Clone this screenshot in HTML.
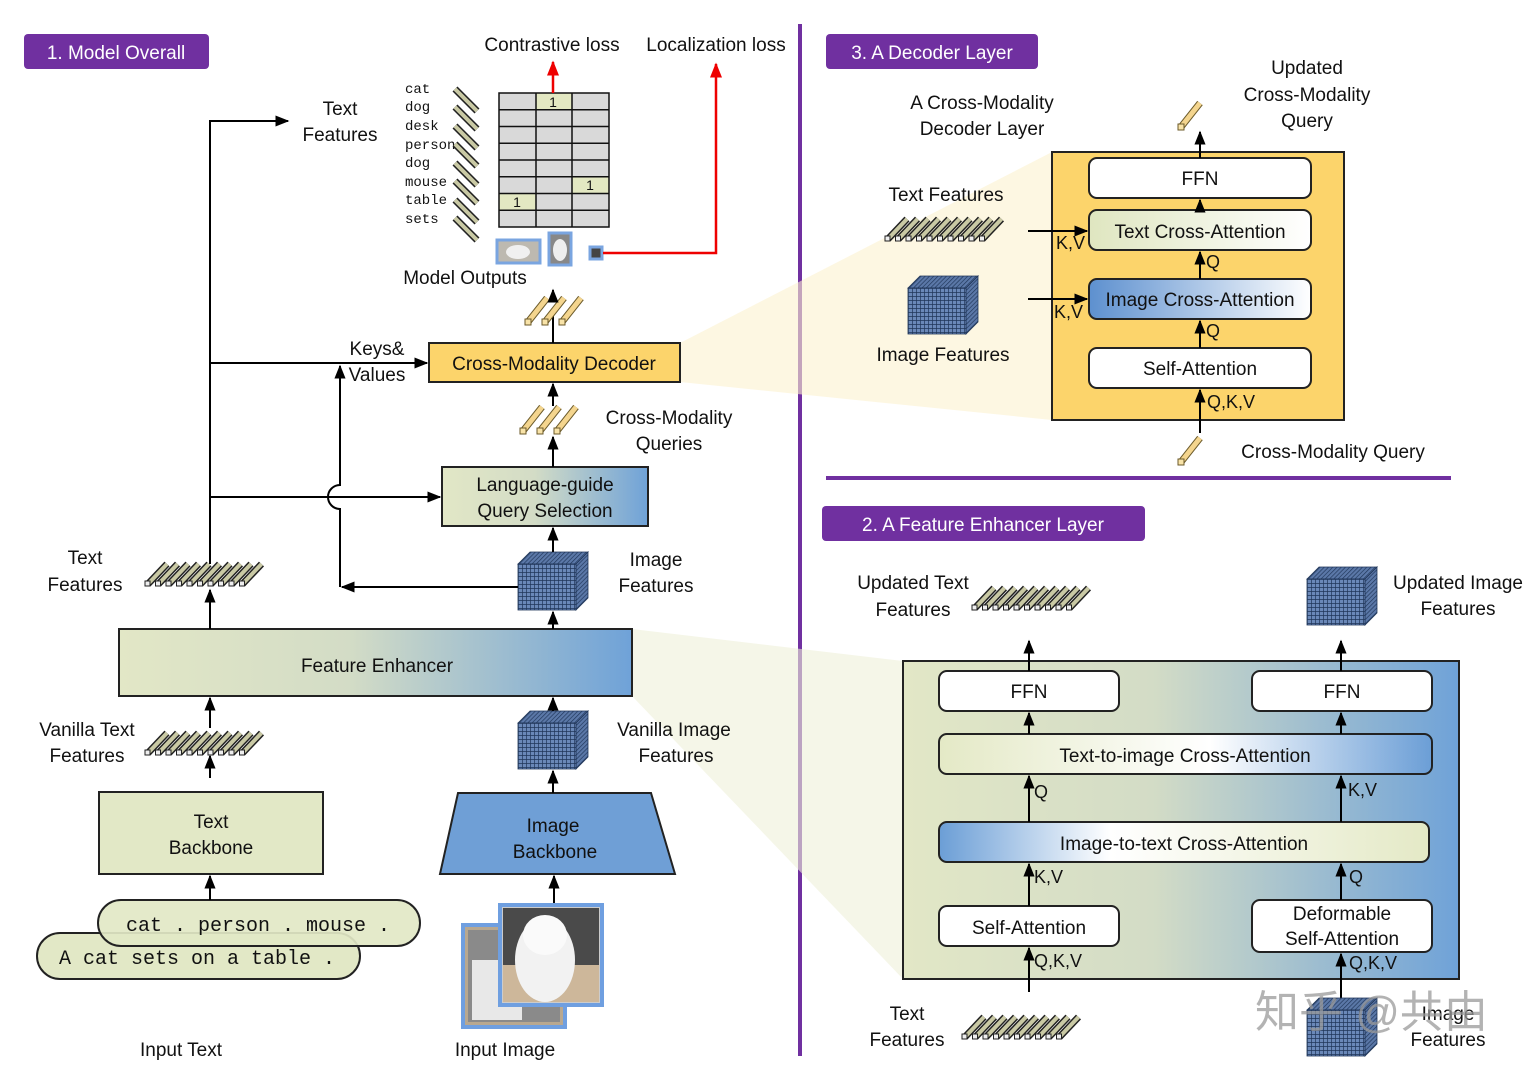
<!DOCTYPE html>
<html><head><meta charset="utf-8"><style>
html,body{margin:0;padding:0;background:#fff;}
svg{display:block;}
text{font-family:"Liberation Sans","Noto Sans CJK SC",sans-serif;fill:#111;}
.m{font-family:"Liberation Mono","DejaVu Sans Mono",monospace;}
</style></head><body>
<svg width="1536" height="1072" viewBox="0 0 1536 1072" xmlns="http://www.w3.org/2000/svg">
<defs>
<marker id="ar" viewBox="0 0 10 10" refX="9" refY="5" markerWidth="7" markerHeight="7" orient="auto"><path d="M0,1 L10,5 L0,9 z" fill="#000"/></marker>
<marker id="arr" viewBox="0 0 10 10" refX="9" refY="5" markerWidth="6" markerHeight="6" orient="auto"><path d="M0,1 L10,5 L0,9 z" fill="#e00"/></marker>
<pattern id="grid" width="4" height="4" patternUnits="userSpaceOnUse"><rect width="4" height="4" fill="#6a88b8"/><path d="M0,0H4M0,0V4" stroke="#1f3558" stroke-width="1.4"/></pattern>
<pattern id="hatch" width="3" height="3" patternUnits="userSpaceOnUse" patternTransform="rotate(45)"><rect width="3" height="3" fill="#5b78a8"/><path d="M0,0V3" stroke="#1f3558" stroke-width="1.3"/></pattern>
<linearGradient id="gb" x1="0" x2="1"><stop offset="0" stop-color="#e2e7c6"/><stop offset="0.45" stop-color="#d3dcc6"/><stop offset="1" stop-color="#6fa2d8"/></linearGradient>
<linearGradient id="gw" x1="0" x2="1"><stop offset="0" stop-color="#dfe6c0"/><stop offset="1" stop-color="#ffffff"/></linearGradient>
<linearGradient id="bw" x1="0" x2="1"><stop offset="0" stop-color="#5d90cf"/><stop offset="1" stop-color="#ffffff"/></linearGradient>
<linearGradient id="gwb" x1="0" x2="1"><stop offset="0" stop-color="#e4e9c6"/><stop offset="0.55" stop-color="#ffffff"/><stop offset="1" stop-color="#6b9ed6"/></linearGradient>
<linearGradient id="bwg" x1="0" x2="1"><stop offset="0" stop-color="#6b9ed6"/><stop offset="0.35" stop-color="#ffffff"/><stop offset="1" stop-color="#e4e9c6"/></linearGradient>
<g id="tk"><line x1="0" y1="0" x2="19" y2="-20" stroke="#222" stroke-width="7"/><line x1="0" y1="0" x2="19" y2="-20" stroke="#c9c9a4" stroke-width="4"/><rect x="-3" y="-3" width="5" height="5" fill="#eee" stroke="#222" stroke-width="1"/></g>
<g id="ty"><line x1="0" y1="0" x2="19" y2="-24" stroke="#6b5a2a" stroke-width="7"/><line x1="0" y1="0" x2="19" y2="-24" stroke="#f4d58e" stroke-width="5"/><rect x="-3" y="-3" width="6" height="6" fill="#f8e3a8" stroke="#6b5a2a" stroke-width="1"/></g>
<g id="tg"><line x1="0" y1="0" x2="22" y2="22" stroke="#222" stroke-width="7"/><line x1="0" y1="0" x2="22" y2="22" stroke="#c9c9a4" stroke-width="4"/></g>
<g id="row"><use href="#tk" x="0"/><use href="#tk" x="10.5"/><use href="#tk" x="21"/><use href="#tk" x="31.5"/><use href="#tk" x="42"/><use href="#tk" x="52.5"/><use href="#tk" x="63"/><use href="#tk" x="73.5"/><use href="#tk" x="84"/><use href="#tk" x="94.5"/></g>
<g id="cube"><polygon points="0,12 12,0 70,0 58,12" fill="url(#hatch)" stroke="#1f3558" stroke-width="0.8"/><polygon points="58,12 70,0 70,46 58,58" fill="url(#hatch)" stroke="#1f3558" stroke-width="0.8"/><rect x="0" y="12" width="58" height="46" fill="url(#grid)" stroke="#1f3558" stroke-width="0.8"/></g>
</defs>

<rect x="798" y="24" width="4" height="1032" fill="#7030a0"/>
<rect x="826" y="476" width="625" height="4" fill="#7030a0"/>

<rect x="24" y="34" width="185" height="35" rx="4" fill="#7030a0"/>
<text x="116" y="59" text-anchor="middle" font-size="19" style="fill:#fff">1. Model Overall</text>
<rect x="826" y="34" width="212" height="35" rx="4" fill="#7030a0"/>
<text x="932" y="59" text-anchor="middle" font-size="19" style="fill:#fff">3. A Decoder Layer</text>
<rect x="822" y="506" width="323" height="35" rx="4" fill="#7030a0"/>
<text x="983" y="531" text-anchor="middle" font-size="19" style="fill:#fff">2. A Feature Enhancer Layer</text>

<polygon points="680,343 1052,152 1052,420 680,382" fill="#fbf1cf" opacity="0.6"/>
<polygon points="632,629 903,661 903,979 632,696" fill="#eef0d8" opacity="0.6"/>

<rect x="37" y="933" width="323" height="46" rx="23" fill="#e2e8c6" stroke="#222" stroke-width="2"/>
<text class="m" x="59" y="964" font-size="20">A cat sets on a table .</text>
<rect x="98" y="900" width="322" height="46" rx="23" fill="#e2e8c6" fill-opacity="0.92" stroke="#222" stroke-width="2"/>
<text class="m" x="126" y="931" font-size="20">cat . person . mouse .</text>
<text x="181" y="1056" text-anchor="middle" font-size="19">Input Text</text>

<rect x="463" y="925" width="102" height="102" fill="#b8a890" stroke="#6f9fe0" stroke-width="4"/>
<rect x="468" y="930" width="92" height="92" fill="#8a8a8a"/>
<rect x="472" y="960" width="50" height="60" fill="#e8e8e8"/>
<rect x="500" y="905" width="102" height="100" fill="#ccc" stroke="#6f9fe0" stroke-width="4"/>
<rect x="503" y="908" width="96" height="94" fill="#4a4a4a"/>
<rect x="503" y="965" width="96" height="37" fill="#cdb79a"/>
<ellipse cx="545" cy="960" rx="30" ry="42" fill="#f2f2f2"/>
<ellipse cx="545" cy="935" rx="22" ry="20" fill="#fafafa"/>
<text x="505" y="1056" text-anchor="middle" font-size="19">Input Image</text>

<rect x="99" y="792" width="224" height="82" fill="#e2e8c6" stroke="#222" stroke-width="2"/>
<text x="211" y="828" text-anchor="middle" font-size="19">Text</text>
<text x="211" y="854" text-anchor="middle" font-size="19">Backbone</text>
<polygon points="458,793 651,793 675,874 440,874" fill="#6f9fd6" stroke="#222" stroke-width="2"/>
<text x="553" y="832" text-anchor="middle" font-size="19">Image</text>
<text x="555" y="858" text-anchor="middle" font-size="19">Backbone</text>

<line x1="210" y1="900" x2="210" y2="876" stroke="#000" stroke-width="2" marker-end="url(#ar)"/>
<line x1="554" y1="903" x2="554" y2="876" stroke="#000" stroke-width="2" marker-end="url(#ar)"/>
<line x1="210" y1="778" x2="210" y2="756" stroke="#000" stroke-width="2" marker-end="url(#ar)"/>
<line x1="553" y1="793" x2="553" y2="771" stroke="#000" stroke-width="2" marker-end="url(#ar)"/>
<use href="#row" x="148" y="753"/>
<text x="87" y="736" text-anchor="middle" font-size="19">Vanilla Text</text>
<text x="87" y="762" text-anchor="middle" font-size="19">Features</text>
<use href="#cube" x="518" y="711"/>
<text x="674" y="736" text-anchor="middle" font-size="19">Vanilla Image</text>
<text x="676" y="762" text-anchor="middle" font-size="19">Features</text>
<line x1="210" y1="728" x2="210" y2="698" stroke="#000" stroke-width="2" marker-end="url(#ar)"/>
<line x1="553" y1="711" x2="553" y2="698" stroke="#000" stroke-width="2" marker-end="url(#ar)"/>

<rect x="119" y="629" width="513" height="67" fill="url(#gb)" stroke="#222" stroke-width="2"/>
<text x="377" y="672" text-anchor="middle" font-size="19">Feature Enhancer</text>
<line x1="210" y1="629" x2="210" y2="590" stroke="#000" stroke-width="2" marker-end="url(#ar)"/>
<line x1="553" y1="629" x2="553" y2="612" stroke="#000" stroke-width="2" marker-end="url(#ar)"/>
<use href="#row" x="148" y="584"/>
<text x="85" y="564" text-anchor="middle" font-size="19">Text</text>
<text x="85" y="591" text-anchor="middle" font-size="19">Features</text>
<use href="#cube" x="518" y="552"/>
<text x="656" y="566" text-anchor="middle" font-size="19">Image</text>
<text x="656" y="592" text-anchor="middle" font-size="19">Features</text>

<line x1="210" y1="564" x2="210" y2="121" stroke="#000" stroke-width="2"/>
<line x1="209" y1="121" x2="288" y2="121" stroke="#000" stroke-width="2" marker-end="url(#ar)"/>
<text x="340" y="115" text-anchor="middle" font-size="19">Text</text>
<text x="340" y="141" text-anchor="middle" font-size="19">Features</text>
<line x1="210" y1="497" x2="440" y2="497" stroke="#000" stroke-width="2" marker-end="url(#ar)"/>
<line x1="210" y1="363" x2="427" y2="363" stroke="#000" stroke-width="2" marker-end="url(#ar)"/>
<line x1="518" y1="587" x2="342" y2="587" stroke="#000" stroke-width="2" marker-end="url(#ar)"/>
<path d="M340,587 V509 A12,12 0 0 1 340,485 V366" fill="none" stroke="#000" stroke-width="2" marker-end="url(#ar)"/>
<text x="377" y="355" text-anchor="middle" font-size="19">Keys&amp;</text>
<text x="377" y="381" text-anchor="middle" font-size="19">Values</text>

<rect x="442" y="467" width="206" height="59" fill="url(#gb)" stroke="#222" stroke-width="2"/>
<text x="545" y="491" text-anchor="middle" font-size="19">Language-guide</text>
<text x="545" y="517" text-anchor="middle" font-size="19">Query Selection</text>
<line x1="553" y1="552" x2="553" y2="528" stroke="#000" stroke-width="2" marker-end="url(#ar)"/>
<line x1="553" y1="467" x2="553" y2="437" stroke="#000" stroke-width="2" marker-end="url(#ar)"/>
<use href="#ty" x="523" y="431"/><use href="#ty" x="540" y="431"/><use href="#ty" x="557" y="431"/>
<text x="669" y="424" text-anchor="middle" font-size="19">Cross-Modality</text>
<text x="669" y="450" text-anchor="middle" font-size="19">Queries</text>
<line x1="553" y1="406" x2="553" y2="384" stroke="#000" stroke-width="2" marker-end="url(#ar)"/>

<rect x="429" y="343" width="251" height="39" fill="#fcd46b" stroke="#222" stroke-width="2"/>
<text x="554" y="370" text-anchor="middle" font-size="19">Cross-Modality Decoder</text>
<line x1="553" y1="343" x2="553" y2="310" stroke="#000" stroke-width="2"/>
<use href="#ty" x="528" y="322"/><use href="#ty" x="545" y="322"/><use href="#ty" x="562" y="322"/>
<line x1="553" y1="298" x2="553" y2="290" stroke="#000" stroke-width="2" marker-end="url(#ar)"/>
<text x="465" y="284" text-anchor="middle" font-size="19">Model Outputs</text>

<g font-size="14">
<text class="m" x="405" y="93">cat</text>
<text class="m" x="405" y="111">dog</text>
<text class="m" x="405" y="130">desk</text>
<text class="m" x="405" y="149">person</text>
<text class="m" x="405" y="167">dog</text>
<text class="m" x="405" y="186">mouse</text>
<text class="m" x="405" y="204">table</text>
<text class="m" x="405" y="223">sets</text>
</g>
<use href="#tg" x="455" y="89"/><use href="#tg" x="455" y="107"/><use href="#tg" x="455" y="126"/><use href="#tg" x="455" y="144"/><use href="#tg" x="455" y="163"/><use href="#tg" x="455" y="181"/><use href="#tg" x="455" y="200"/><use href="#tg" x="455" y="218"/>
<rect x="499" y="93" width="110" height="134" fill="#d9d9d9"/>
<rect x="536" y="93" width="36" height="16.75" fill="#e3e8c2"/>
<rect x="572" y="176.75" width="37" height="16.75" fill="#e3e8c2"/>
<rect x="499" y="193.5" width="37" height="16.75" fill="#e3e8c2"/>
<g stroke="#111" stroke-width="1.5" fill="none">
<rect x="499" y="93" width="110" height="134"/>
<path d="M536,93V227M572,93V227M499,109.75H609M499,126.5H609M499,143.25H609M499,160H609M499,176.75H609M499,193.5H609M499,210.25H609"/>
</g>
<text x="553" y="107" text-anchor="middle" font-size="14">1</text>
<text x="590" y="190" text-anchor="middle" font-size="14">1</text>
<text x="517" y="207" text-anchor="middle" font-size="14">1</text>
<rect x="497" y="240" width="43" height="23" fill="#bdb9b0" stroke="#7aa5e0" stroke-width="3"/>
<ellipse cx="518" cy="252" rx="12" ry="7" fill="#f0f0f0"/>
<rect x="549" y="233" width="22" height="32" fill="#888" stroke="#7aa5e0" stroke-width="3"/>
<ellipse cx="560" cy="250" rx="7" ry="11" fill="#eee"/>
<rect x="590" y="247" width="12" height="12" fill="#444" stroke="#7aa5e0" stroke-width="3"/>
<line x1="553" y1="93" x2="553" y2="62" stroke="#e00" stroke-width="2.5" marker-end="url(#arr)"/>
<polyline points="603,253 716,253 716,64" fill="none" stroke="#e00" stroke-width="2.5" marker-end="url(#arr)"/>
<text x="552" y="51" text-anchor="middle" font-size="19">Contrastive loss</text>
<text x="716" y="51" text-anchor="middle" font-size="19">Localization loss</text>

<text x="982" y="109" text-anchor="middle" font-size="19">A Cross-Modality</text>
<text x="982" y="135" text-anchor="middle" font-size="19">Decoder Layer</text>
<text x="1307" y="74" text-anchor="middle" font-size="19">Updated</text>
<text x="1307" y="101" text-anchor="middle" font-size="19">Cross-Modality</text>
<text x="1307" y="127" text-anchor="middle" font-size="19">Query</text>
<rect x="1052" y="152" width="292" height="268" fill="#fcd46b" stroke="#222" stroke-width="2"/>
<rect x="1089" y="158" width="222" height="40" rx="8" fill="#fff" stroke="#222" stroke-width="2"/>
<text x="1200" y="185" text-anchor="middle" font-size="19">FFN</text>
<rect x="1089" y="210" width="222" height="40" rx="8" fill="url(#gw)" stroke="#222" stroke-width="2"/>
<text x="1200" y="238" text-anchor="middle" font-size="19">Text Cross-Attention</text>
<rect x="1089" y="279" width="222" height="40" rx="8" fill="url(#bw)" stroke="#222" stroke-width="2"/>
<text x="1200" y="306" text-anchor="middle" font-size="19">Image Cross-Attention</text>
<rect x="1089" y="348" width="222" height="40" rx="8" fill="#fff" stroke="#222" stroke-width="2"/>
<text x="1200" y="375" text-anchor="middle" font-size="19">Self-Attention</text>
<line x1="1200" y1="433" x2="1200" y2="390" stroke="#000" stroke-width="2" marker-end="url(#ar)"/>
<line x1="1200" y1="348" x2="1200" y2="321" stroke="#000" stroke-width="2" marker-end="url(#ar)"/>
<line x1="1200" y1="279" x2="1200" y2="252" stroke="#000" stroke-width="2" marker-end="url(#ar)"/>
<line x1="1200" y1="210" x2="1200" y2="200" stroke="#000" stroke-width="2" marker-end="url(#ar)"/>
<line x1="1200" y1="158" x2="1200" y2="132" stroke="#000" stroke-width="2" marker-end="url(#ar)"/>
<text x="1206" y="268" font-size="18">Q</text>
<text x="1206" y="337" font-size="18">Q</text>
<text x="1207" y="408" font-size="18">Q,K,V</text>
<text x="1056" y="249" font-size="18">K,V</text>
<text x="1054" y="318" font-size="18">K,V</text>
<line x1="1028" y1="231" x2="1087" y2="231" stroke="#000" stroke-width="2" marker-end="url(#ar)"/>
<line x1="1028" y1="299" x2="1087" y2="299" stroke="#000" stroke-width="2" marker-end="url(#ar)"/>
<use href="#ty" x="1181" y="462"/>
<use href="#ty" x="1181" y="127"/>
<text x="1333" y="458" text-anchor="middle" font-size="19">Cross-Modality Query</text>
<text x="946" y="201" text-anchor="middle" font-size="19">Text Features</text>
<use href="#row" x="888" y="239"/>
<use href="#cube" x="908" y="276"/>
<text x="943" y="361" text-anchor="middle" font-size="19">Image Features</text>

<text x="913" y="589" text-anchor="middle" font-size="19">Updated Text</text>
<text x="913" y="616" text-anchor="middle" font-size="19">Features</text>
<use href="#row" x="975" y="608"/>
<use href="#cube" x="1307" y="567"/>
<text x="1458" y="589" text-anchor="middle" font-size="19">Updated Image</text>
<text x="1458" y="615" text-anchor="middle" font-size="19">Features</text>
<rect x="903" y="661" width="556" height="318" fill="url(#gb)" stroke="#222" stroke-width="2"/>
<rect x="939" y="671" width="180" height="40" rx="8" fill="#fff" stroke="#222" stroke-width="2"/>
<text x="1029" y="698" text-anchor="middle" font-size="19">FFN</text>
<rect x="1252" y="671" width="180" height="40" rx="8" fill="#fff" stroke="#222" stroke-width="2"/>
<text x="1342" y="698" text-anchor="middle" font-size="19">FFN</text>
<rect x="939" y="734" width="493" height="40" rx="8" fill="url(#gwb)" stroke="#222" stroke-width="2"/>
<text x="1185" y="762" text-anchor="middle" font-size="19">Text-to-image Cross-Attention</text>
<rect x="939" y="822" width="490" height="40" rx="8" fill="url(#bwg)" stroke="#222" stroke-width="2"/>
<text x="1184" y="850" text-anchor="middle" font-size="19">Image-to-text Cross-Attention</text>
<rect x="939" y="906" width="180" height="40" rx="8" fill="#fff" stroke="#222" stroke-width="2"/>
<text x="1029" y="934" text-anchor="middle" font-size="19">Self-Attention</text>
<rect x="1252" y="900" width="180" height="52" rx="8" fill="#fff" stroke="#222" stroke-width="2"/>
<text x="1342" y="920" text-anchor="middle" font-size="19">Deformable</text>
<text x="1342" y="945" text-anchor="middle" font-size="19">Self-Attention</text>
<g stroke="#000" stroke-width="2">
<line x1="1029" y1="992" x2="1029" y2="948" marker-end="url(#ar)"/>
<line x1="1029" y1="906" x2="1029" y2="864" marker-end="url(#ar)"/>
<line x1="1029" y1="822" x2="1029" y2="776" marker-end="url(#ar)"/>
<line x1="1029" y1="734" x2="1029" y2="713" marker-end="url(#ar)"/>
<line x1="1029" y1="671" x2="1029" y2="641" marker-end="url(#ar)"/>
<line x1="1341" y1="1000" x2="1341" y2="954" marker-end="url(#ar)"/>
<line x1="1341" y1="900" x2="1341" y2="864" marker-end="url(#ar)"/>
<line x1="1341" y1="822" x2="1341" y2="776" marker-end="url(#ar)"/>
<line x1="1341" y1="734" x2="1341" y2="713" marker-end="url(#ar)"/>
<line x1="1341" y1="671" x2="1341" y2="641" marker-end="url(#ar)"/>
</g>
<text x="1034" y="798" font-size="18">Q</text>
<text x="1348" y="796" font-size="18">K,V</text>
<text x="1034" y="883" font-size="18">K,V</text>
<text x="1349" y="883" font-size="18">Q</text>
<text x="1034" y="967" font-size="18">Q,K,V</text>
<text x="1349" y="969" font-size="18">Q,K,V</text>
<text x="907" y="1020" text-anchor="middle" font-size="19">Text</text>
<text x="907" y="1046" text-anchor="middle" font-size="19">Features</text>
<use href="#row" x="965" y="1037"/>
<use href="#cube" x="1307" y="998"/>
<text x="1448" y="1020" text-anchor="middle" font-size="19">Image</text>
<text x="1448" y="1046" text-anchor="middle" font-size="19">Features</text>
<text x="1255" y="1027" font-size="44" style="fill:#999;fill-opacity:0.75">知乎 @共由</text>
</svg>
</body></html>
